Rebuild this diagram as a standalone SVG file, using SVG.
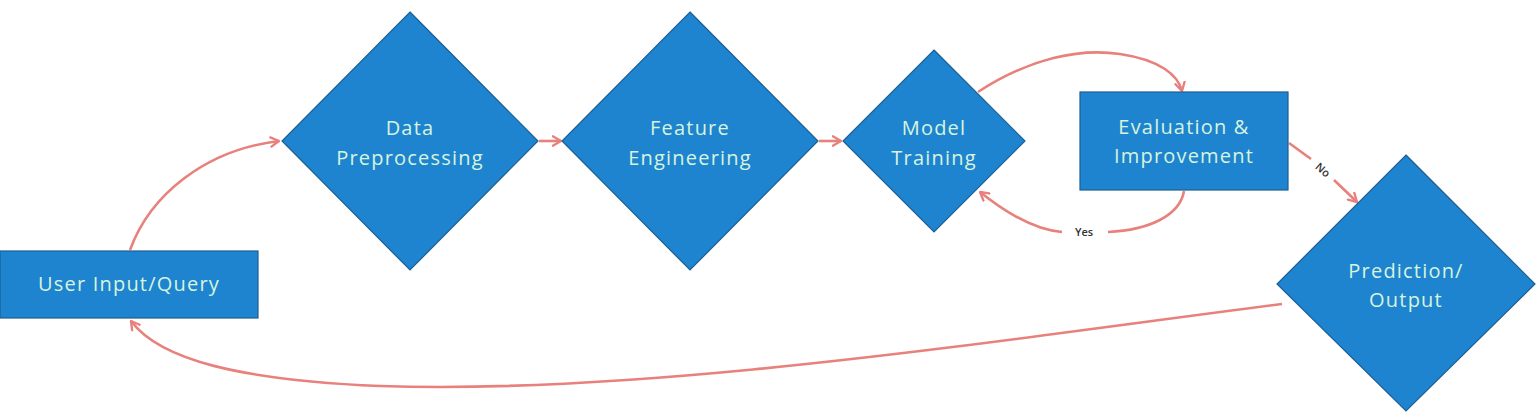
<svg xmlns="http://www.w3.org/2000/svg" width="1536" height="412" viewBox="0 0 1536 412">
<defs>
<marker id="arr" viewBox="0 0 10 10" refX="8" refY="5" markerWidth="4.5" markerHeight="4.5" orient="auto" markerUnits="strokeWidth">
<path d="M1,1 L8,5 L1,9" fill="none" stroke="#e8807c" stroke-width="2" stroke-linecap="round" stroke-linejoin="round"/>
</marker>
</defs>
<style>
.shape{fill:#1e84d0;stroke:#1b5f93;stroke-width:1.2}
.lbl{font-family:"Open Sans","Liberation Sans",sans-serif;font-size:20px;fill:#d6f4de;text-anchor:middle;letter-spacing:1.2px}
.edge{fill:none;stroke:#e8807c;stroke-width:2.6;marker-end:url(#arr)}
.small{font-family:"Open Sans","Liberation Sans",sans-serif;font-size:11px;font-weight:600;fill:#333;text-anchor:middle}
</style>
<rect width="1536" height="412" fill="#ffffff"/>
<g id="connectors">
<path class="edge" d="M130,250 C150,195 205,150 279,141"/>
<path class="edge" d="M539,141 L561,141"/>
<path class="edge" d="M819,141 L841,141"/>
<path class="edge" d="M978,92 C1030,58 1080,48 1120,54 C1160,60 1178,75 1182,91"/>
<path class="edge" d="M1184,191 C1180,215 1150,230 1108,232 M1062,232 C1035,230 1005,212 980,192"/>
<path class="edge" d="M1289,143 L1311,159 M1334,180 L1357,202"/>
<path class="edge" d="M1282,304 C1000,340 650,395 380,386 C240,380 160,360 131,321"/>
<text class="small" x="1084" y="236">Yes</text>
<text class="small" x="1323" y="174" transform="rotate(42 1323 170)">No</text>
</g>
<g id="user-input">
<rect class="shape" x="0" y="251" width="258" height="67"/>
<text class="lbl" x="129" y="291">User Input/Query</text>
</g>
<g id="data-preprocessing">
<polygon class="shape" points="410,12 538,141 410,270 282,141"/>
<text class="lbl" x="410" y="135">Data</text>
<text class="lbl" x="410" y="165">Preprocessing</text>
</g>
<g id="feature-engineering">
<polygon class="shape" points="690,12 818,141 690,270 562,141"/>
<text class="lbl" x="690" y="135">Feature</text>
<text class="lbl" x="690" y="165">Engineering</text>
</g>
<g id="model-training">
<polygon class="shape" points="934,50 1025,141 934,232 843,141"/>
<text class="lbl" x="934" y="135">Model</text>
<text class="lbl" x="934" y="165">Training</text>
</g>
<g id="evaluation">
<rect class="shape" x="1080" y="92" width="208" height="98"/>
<text class="lbl" x="1184" y="134">Evaluation &amp;</text>
<text class="lbl" x="1184" y="163">Improvement</text>
</g>
<g id="prediction">
<polygon class="shape" points="1406,155 1535,284 1406,411 1277,284"/>
<text class="lbl" x="1406" y="278">Prediction/</text>
<text class="lbl" x="1406" y="307">Output</text>
</g>
</svg>
